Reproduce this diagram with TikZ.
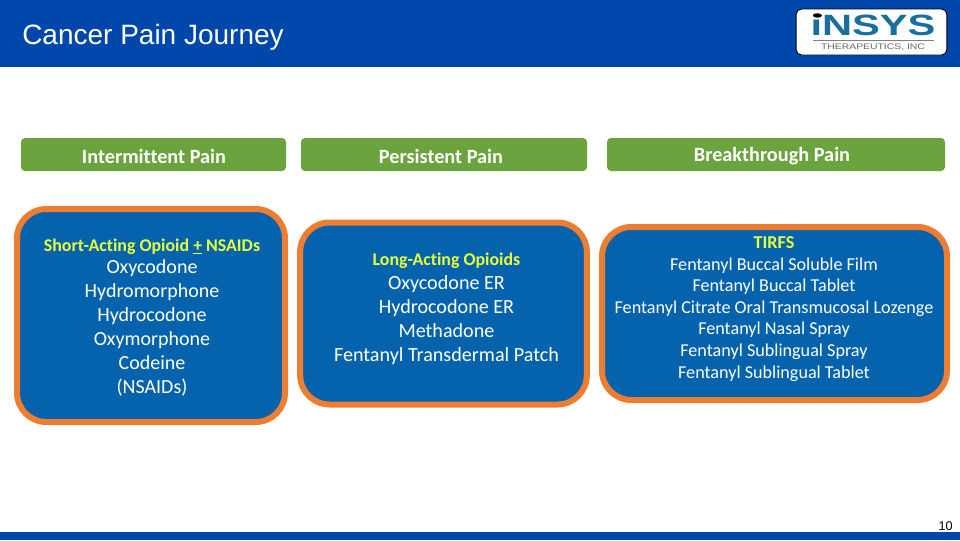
\documentclass[tikz,border=0pt]{standalone}
\usepackage{fontspec}
\setmainfont[Ligatures=NoCommon]{Carlito}
\newfontfamily\arialfont{Liberation Sans}
\definecolor{barblue}{HTML}{0047AB}
\definecolor{boxblue}{HTML}{0563AE}
\definecolor{boxorange}{HTML}{ED7D31}
\definecolor{headgreen}{HTML}{6BA43F}
\definecolor{headyellow}{HTML}{E6FF3C}
\definecolor{logoblue}{HTML}{1A6E9E}
\tikzset{
	headbox/.style={fill=headgreen,rounded corners=3pt,inner sep=0pt,minimum height=24.75pt},
	headtext/.style={text=white,font=\bfseries\fontsize{15.2}{18}\selectfont,inner sep=0pt},
	painbox/.style={fill=boxblue,draw=boxorange,line width=4.5pt,rounded corners=22pt},
	druglist/.style={text=white,align=center,inner sep=0pt},
}
\newcommand{\headline}[1]{{\color{headyellow}\bfseries #1}}
\begin{document}
\begin{tikzpicture}[x=0.75pt,y=-0.75pt]
	\useasboundingbox (0,0) rectangle (960,540);
	\fill[barblue] (0,0) rectangle (960,67);
	\fill[barblue] (0,532) rectangle (960,540);
	\node[name=title,text=white,anchor=west,inner sep=0pt,font=\arialfont\fontsize{21}{24}\selectfont] at (22,37){Cancer Pain Journey};
	\node[name=logo,draw=black,fill=white,rounded corners=4pt,line width=0.7pt,minimum width=113pt,minimum height=34.5pt] at (871.5,32){};
	\node[name=insys,text=logoblue,inner sep=0pt,xscale=1.42,font=\arialfont\bfseries\fontsize{22}{24}\selectfont] at (873,25.5){iNSYS};
	\fill[black] (817.5,15.5) ellipse (4.5 and 2.2);
	\draw[gray,line width=0.6pt] (813,40) -- (934,40);
	\node[name=therapeutics,text=black!60,inner sep=0pt,xscale=1.3,font=\arialfont\fontsize{6}{7}\selectfont] at (873,47.5){THERAPEUTICS, INC};
	\node[name=pagenum,text=black,anchor=east,inner sep=0pt,font=\arialfont\fontsize{9.5}{11}\selectfont] at (953,526){10};
	\node[name=intermittent,headbox,minimum width=198.75pt] at (153.5,154.5){};
	\node[name=persistent,headbox,minimum width=214.5pt] at (444,154.5){};
	\node[name=breakthrough,headbox,minimum width=253.5pt] at (776,154.5){};
	\node[name=intermittenttext,headtext] at (154,156.5){Intermittent Pain};
	\node[name=persistenttext,headtext] at (441,156.5){Persistent Pain};
	\node[name=breakthroughtext,headtext] at (772,156.5){Breakthrough Pain};
	\node[name=shortbox,painbox,minimum width=201pt,minimum height=159.75pt] at (151,315.5){};
	\node[name=longbox,painbox,minimum width=215pt,minimum height=136.5pt] at (443.5,313.5){};
	\node[name=tirfsbox,painbox,minimum width=258.75pt,minimum height=129.75pt] at (774.5,313.5){};
	\node[name=shorttext,druglist,font=\fontsize{15}{18}\selectfont] at (152,318){{\fontsize{13.4}{18}\selectfont\headline{Short-Acting Opioid \underline{+} NSAIDs}}\\[-1.5pt]Oxycodone\\Hydromorphone\\Hydrocodone\\Oxymorphone\\Codeine\\(NSAIDs)};
	\node[name=longtext,druglist,font=\fontsize{15.1}{18}\selectfont] at (446.5,309){{\fontsize{13.4}{18}\selectfont\headline{Long-Acting Opioids}}\\Oxycodone ER\\Hydrocodone ER\\Methadone\\Fentanyl Transdermal Patch};
	\node[name=tirfstext,druglist,font=\fontsize{13.6}{16.2}\selectfont] at (774,309){\headline{TIRFS}\\Fentanyl Buccal Soluble Film\\Fentanyl Buccal Tablet\\Fentanyl Citrate Oral Transmucosal Lozenge\\Fentanyl Nasal Spray\\Fentanyl Sublingual Spray\\Fentanyl Sublingual Tablet};
\end{tikzpicture}
\end{document}
